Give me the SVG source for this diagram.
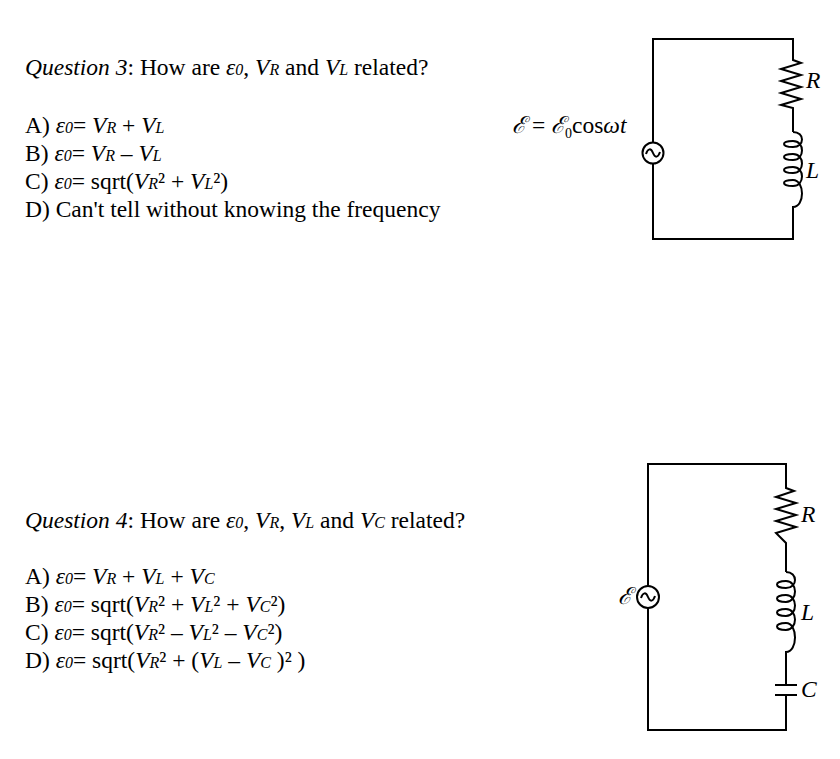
<svg xmlns="http://www.w3.org/2000/svg" width="840" height="759" viewBox="0 0 840 759">
<style>
text{font-family:"Liberation Serif","Times New Roman",serif;font-size:23.5px;fill:#000}
.i{font-style:italic}
.s{font-size:16px}
.w{fill:none;stroke:#000;stroke-width:2}
.e{font-family:"DejaVu Serif",serif;font-style:italic}
</style>
<rect width="840" height="759" fill="#fff"/>
<g id="q3">
<text x="25" y="75"><tspan class="i">Question 3</tspan>: How are <tspan class="i">ε</tspan><tspan class="i s">0</tspan>, <tspan class="i">V</tspan><tspan class="i s">R</tspan> and <tspan class="i">V</tspan><tspan class="i s">L</tspan> related?</text>
<text x="25" y="133">A) <tspan class="i">ε</tspan><tspan class="i s">0</tspan>= <tspan class="i">V</tspan><tspan class="i s">R</tspan> + <tspan class="i">V</tspan><tspan class="i s">L</tspan></text>
<text x="25" y="161">B) <tspan class="i">ε</tspan><tspan class="i s">0</tspan>= <tspan class="i">V</tspan><tspan class="i s">R</tspan> – <tspan class="i">V</tspan><tspan class="i s">L</tspan></text>
<text x="25" y="189">C) <tspan class="i">ε</tspan><tspan class="i s">0</tspan>= sqrt(<tspan class="i">V</tspan><tspan class="i s">R</tspan>² + <tspan class="i">V</tspan><tspan class="i s">L</tspan>²)</text>
<text x="25" y="217">D) Can't tell without knowing the frequency</text>
</g>
<g id="q4">
<text x="25" y="528"><tspan class="i">Question 4</tspan>: How are <tspan class="i">ε</tspan><tspan class="i s">0</tspan>, <tspan class="i">V</tspan><tspan class="i s">R</tspan>, <tspan class="i">V</tspan><tspan class="i s">L</tspan>  and <tspan class="i">V</tspan><tspan class="i s">C</tspan> related?</text>
<text x="25" y="584">A) <tspan class="i">ε</tspan><tspan class="i s">0</tspan>= <tspan class="i">V</tspan><tspan class="i s">R</tspan> + <tspan class="i">V</tspan><tspan class="i s">L</tspan> + <tspan class="i">V</tspan><tspan class="i s">C</tspan></text>
<text x="25" y="612">B) <tspan class="i">ε</tspan><tspan class="i s">0</tspan>= sqrt(<tspan class="i">V</tspan><tspan class="i s">R</tspan>² + <tspan class="i">V</tspan><tspan class="i s">L</tspan>² + <tspan class="i">V</tspan><tspan class="i s">C</tspan>²)</text>
<text x="25" y="640">C) <tspan class="i">ε</tspan><tspan class="i s">0</tspan>= sqrt(<tspan class="i">V</tspan><tspan class="i s">R</tspan>² – <tspan class="i">V</tspan><tspan class="i s">L</tspan>² – <tspan class="i">V</tspan><tspan class="i s">C</tspan>²)</text>
<text x="25" y="668">D) <tspan class="i">ε</tspan><tspan class="i s">0</tspan>= sqrt(<tspan class="i">V</tspan><tspan class="i s">R</tspan>² + (<tspan class="i">V</tspan><tspan class="i s">L</tspan> – <tspan class="i">V</tspan><tspan class="i s">C</tspan> )² )</text>
</g>
<g id="circuit1">
<path class="w" d="M653 142V39H793V60 L801 63 L781 69 L801 75 L781 81 L801 87 L781 93 L801 99 L781 105 L793 108V132"/>
<path class="w" d="M793 132 C805 132 805 147 793 147 C781 147 781 141 793 141 C805 141 805 160 793 160 C781 160 781 154 793 154 C805 154 805 173 793 173 C781 173 781 167 793 167 C805 167 805 186 793 186 C781 186 781 180 793 180 C805 180 805 207 793 207 V239H653V164"/>
<circle class="w" cx="653" cy="153" r="10.5"/>
<path class="w" stroke-width="1.6" d="M646 154 C648 148 651 148 653 153 C655 158 658 158 660 152"/>
<text class="i" x="806" y="88" font-size="21">R</text>
<text class="i" x="806" y="178" font-size="21">L</text>
<text x="512" y="133" font-size="21"><tspan class="e">ℰ</tspan> = <tspan class="e">ℰ</tspan><tspan font-size="14" dy="5">0</tspan><tspan dy="-5">cos</tspan><tspan class="i">ωt</tspan></text>
</g>
<g id="circuit2">
<path class="w" d="M648 586V464H786V488 L794 491 L776 497 L796 503 L776 509 L796 515 L776 521 L796 527 L776 533 L786 543V572"/>
<path class="w" d="M786 572 C798 572 798 588 786 588 C774 588 774 581 786 581 C798 581 798 602 786 602 C774 602 774 595 786 595 C798 595 798 616 786 616 C774 616 774 609 786 609 C798 609 798 630 786 630 C774 630 774 623 786 623 C798 623 798 652 786 652 V685 M775 685H797 M775 695H797 M786 695V730H648V608"/>
<circle class="w" cx="648" cy="597" r="11"/>
<path class="w" stroke-width="1.6" d="M641 598 C643 592 646 592 648 597 C650 602 653 602 655 596"/>
<text class="i" x="801" y="522" font-size="21">R</text>
<text class="i" x="801" y="620" font-size="21">L</text>
<text class="i" x="801" y="697" font-size="21">C</text>
<text class="e" x="618" y="604" font-size="20">ℰ</text>
</g>
</svg>
